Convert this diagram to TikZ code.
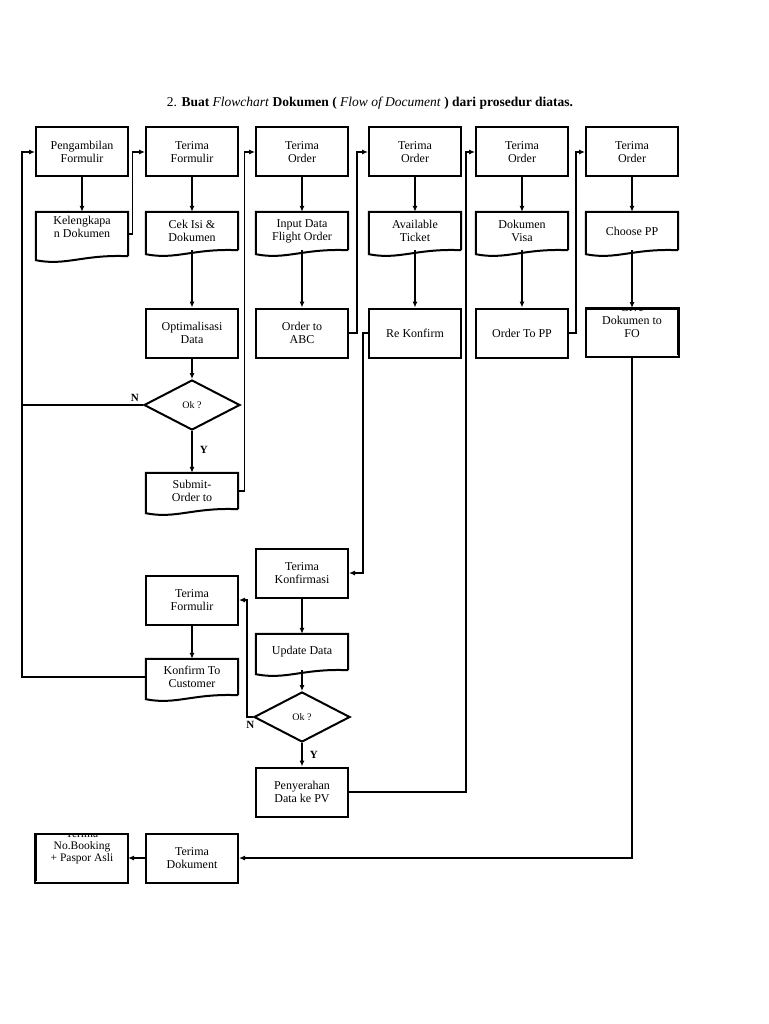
\documentclass[tikz,border=0pt]{standalone}
\usepackage{fontspec}
\setmainfont{Liberation Serif}
\usetikzlibrary{shapes.geometric,arrows.meta,calc}
\begin{document}
\begin{tikzpicture}[x=1pt,y=-1pt,
  box/.style={draw,line width=2pt,minimum width=92pt,minimum height=49pt,align=center,font=\fontsize{12}{13}\selectfont,inner sep=1pt},
  docn/.style={minimum width=92pt,minimum height=38pt,align=center,font=\fontsize{12}{13}\selectfont,inner sep=1pt},
  dec/.style={draw,diamond,line width=2pt,aspect=1.9,minimum width=96pt,minimum height=50pt,inner sep=0pt,font=\fontsize{10}{11}\selectfont},
  ar/.style={line width=1.1pt,-{Latex[length=6pt,width=5pt]}},
  ln/.style={line width=1.1pt},
  lbl/.style={font=\bfseries\fontsize{11}{12}\selectfont}]
\useasboundingbox (0,0) rectangle (768,1024);
\newcommand{\docshape}[1]{\draw[line width=2pt] (#1.south east) -- (#1.north east) -- (#1.north west) -- ($(#1.south west)+(0,4)$) .. controls ($(#1.south west)+(30,10)$) and ($(#1.south east)+(-45,-2)$) .. (#1.south east);}
\node[font=\fontsize{13.5}{15}\selectfont] (title) at (370,103) {2. \textbf{Buat} \textit{Flowchart} \textbf{Dokumen (} \textit{Flow of Document} \textbf{) dari prosedur diatas.}};
% column 1
\node[box] (pf) at (82,152) {Pengambilan\\Formulir};
\begin{scope}\clip (35,212) rectangle (128,256);
\node[docn,anchor=north,text height=9pt] (isi) at (82,214) {Isi Formulir\\Kelengkapa\\n Dokumen};
\end{scope}
\node[docn,minimum height=44pt] (isib) at (82,234) {};
\docshape{isib}
% column 2
\node[box] (tf) at (192,152) {Terima\\Formulir};
\node[docn] (cek) at (192,231) {Cek Isi \&\\Dokumen};
\docshape{cek}
\node[box] (opt) at (192,333) {Optimalisasi\\Data};
\node[dec] (ok1) at (192,405) {Ok ?};
\node[docn,minimum height=36pt] (sub) at (192,491) {Submit-\\Order to};
\docshape{sub}
% column 3
\node[box] (to3) at (302,152) {Terima\\Order};
\node[docn] (inp) at (302,231) {Input Data\\Flight Order};
\docshape{inp}
\node[box] (abc) at (302,333) {Order to\\ABC};
% column 4
\node[box] (to4) at (415,152) {Terima\\Order};
\node[docn] (av) at (415,231) {Available\\Ticket};
\docshape{av}
\node[box] (rk) at (415,333) {Re Konfirm};
% column 5
\node[box] (to5) at (522,152) {Terima\\Order};
\node[docn] (dv) at (522,231) {Dokumen\\Visa};
\docshape{dv}
\node[box] (opp) at (522,333) {Order To PP};
% column 6
\node[box] (to6) at (632,152) {Terima\\Order};
\node[docn] (cpp) at (632,231) {Choose PP};
\docshape{cpp}
\begin{scope}\clip (586,308) rectangle (679,354);
\node[box,text height=9pt] (give) at (632,333) {Give\\Dokumen to\\FO};
\end{scope}
\draw[line width=2pt] (586,308) rectangle (679,357);
% lower part
\node[box] (tk) at (302,573) {Terima\\Konfirmasi};
\node[box] (tf2) at (192,600) {Terima\\Formulir};
\node[docn,minimum height=36pt] (upd) at (302,652) {Update Data};
\docshape{upd}
\node[dec] (ok2) at (302,717) {Ok ?};
\node[docn,minimum height=36pt] (kc) at (192,677) {Konfirm To\\Customer};
\docshape{kc}
\node[box] (pv) at (302,792) {Penyerahan\\Data ke PV};
\node[box] (td) at (192,858) {Terima\\Dokument};
\begin{scope}\clip (35,834) rectangle (128,880);
\node[box,text height=9pt,font=\fontsize{11.5}{12}\selectfont] (tnb) at (82,858) {Terima\\No.Booking\\+ Paspor Asli};
\end{scope}
\draw[line width=2pt] (35,834) rectangle (128,883);
% connectors
\draw[ar] (pf) -- (isib.north);
\draw[ar] (isib.east) -- ++(4,0) |- (tf.west);
\draw[ar] (tf) -- (cek.north);
\draw[ar] (cek.south) -- (opt);
\draw[ar] (opt) -- (ok1);
\draw[ar] (ok1) -- node[lbl,right=4pt,pos=0.45]{Y} (sub.north);
\coordinate (lx) at (22,405);
\draw[ar] (ok1.west) -- node[lbl,above,pos=0.05,xshift=-2pt]{N} (lx) |- (pf.west);
\draw[ar] (sub.east) -- ++(6,0) |- (to3.west);
\draw[ar] (to3) -- (inp.north);
\draw[ar] (inp.south) -- (abc);
\draw[ar] (abc.east) -- ++(8,0) |- (to4.west);
\draw[ar] (to4) -- (av.north);
\draw[ar] (av.south) -- (rk);
\draw[ar] (rk.west) -- ++(-5,0) |- (tk.east);
\draw[ar] (tk) -- (upd.north);
\draw[ar] (upd.south) -- (ok2);
\draw[ar] (ok2) -- node[lbl,right=4pt]{Y} (pv);
\draw[ar] (ok2.west) -- node[lbl,below,pos=0.1,xshift=-2pt]{N} ++(-6,0) |- (tf2.east);
\draw[ar] (tf2) -- (kc.north);
\draw[ln] (kc.west) -| (lx);
\draw[ar] (pv.east) -- ++(117,0) |- (to5.west);
\draw[ar] (to5) -- (dv.north);
\draw[ar] (dv.south) -- (opp);
\draw[ar] (opp.east) -- ++(7,0) |- (to6.west);
\draw[ar] (to6) -- (cpp.north);
\draw[ar] (cpp.south) -- (632,308);
\draw[ar] (632,357) |- (td.east);
\draw[ar] (td) -- (128,858);
\end{tikzpicture}
\end{document}
